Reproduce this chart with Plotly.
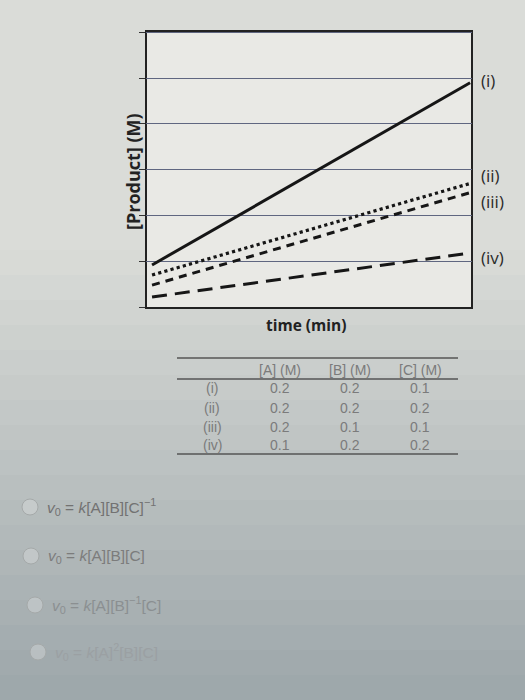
import plotly.graph_objects as go

W, H = 525, 700

# product vs time for each run (endpoints, grid units)
time_min = [0, 10]
product = {
    "(i)": [0.92, 4.9],
    "(ii)": [0.70, 2.70],
    "(iii)": [0.48, 2.50],
    "(iv)": [0.22, 1.18],
}
line_styles = {
    "(i)": dict(color="#161616", width=3, dash="solid"),
    "(ii)": dict(color="#161616", width=3.2, dash="dot"),
    "(iii)": dict(color="#161616", width=3, dash="8px,6px"),
    "(iv)": dict(color="#161616", width=3, dash="15px,8px"),
}
label_y_px = {"(i)": 81, "(ii)": 175, "(iii)": 201, "(iv)": 257}

# table of initial concentrations
runs = ["(i)", "(ii)", "(iii)", "(iv)"]
conc_A = ["0.2", "0.2", "0.2", "0.1"]
conc_B = ["0.2", "0.2", "0.1", "0.2"]
conc_C = ["0.1", "0.2", "0.1", "0.2"]
headers = ["[A] (M)", "[B] (M)", "[C] (M)"]

# answer choices
choices = [
    "<i>v</i><sub>0</sub> = <i>k</i>[A][B][C]<sup>−1</sup>",
    "<i>v</i><sub>0</sub> = <i>k</i>[A][B][C]",
    "<i>v</i><sub>0</sub> = <i>k</i>[A][B]<sup>−1</sup>[C]",
    "<i>v</i><sub>0</sub> = <i>k</i>[A]<sup>2</sup>[B][C]",
]


def px(x):
    return x / W


def py(y):
    return 1 - y / H


fig = go.Figure()

for name, ys in product.items():
    fig.add_trace(go.Scatter(x=time_min, y=ys, mode="lines", name=name,
                             line=line_styles[name], showlegend=False))

shapes = []
# photo-ish background: light top, darker bluish bottom
n = 28
top, bot = (218, 220, 216), (158, 168, 171)
for i in range(n):
    t = i / (n - 1)
    t2 = max(0.0, (t - 0.35) / 0.65)
    c = tuple(int(top[k] + (bot[k] - top[k]) * t2) for k in range(3))
    shapes.append(dict(type="rect", xref="paper", yref="paper", layer="below",
                       x0=0, x1=1, y0=1 - (i + 1) / n, y1=1 - i / n,
                       line=dict(width=0), fillcolor=f"rgb{c}"))
# plot frame background
shapes.append(dict(type="rect", xref="paper", yref="paper", layer="below",
                   x0=px(146), x1=px(472), y0=py(308), y1=py(31),
                   line=dict(color="#222", width=2), fillcolor="#e9e9e5"))

# table rules
for yy in [358, 379, 454]:
    shapes.append(dict(type="line", xref="paper", yref="paper",
                       x0=px(177), x1=px(458), y0=py(yy), y1=py(yy),
                       line=dict(color="#555", width=1.5)))

annotations = []
for name, yy in label_y_px.items():
    annotations.append(dict(x=px(479), y=py(yy), xref="paper", yref="paper",
                            text=name, showarrow=False, xanchor="left",
                            yanchor="middle",
                            font=dict(size=17, color="#2a2a2a", family="Open Sans")))

annotations.append(dict(x=px(306), y=py(325), xref="paper", yref="paper",
                        text="<b>time (min)</b>", showarrow=False,
                        xanchor="center", yanchor="middle",
                        font=dict(size=15.5, color="#222", family="Open Sans")))
annotations.append(dict(x=px(133), y=py(172), xref="paper", yref="paper",
                        text="<b>[Product] (M)</b>", showarrow=False, textangle=-90,
                        xanchor="center", yanchor="middle",
                        font=dict(size=18, color="#222", family="Open Sans")))

col_x = [280, 350, 420]
tfont = dict(size=14, color="#7b7b7b", family="Liberation Sans")
for cx, h in zip(col_x, headers):
    annotations.append(dict(x=px(cx), y=py(370), xref="paper", yref="paper",
                            text=h, showarrow=False, xanchor="center",
                            yanchor="middle", font=tfont))
row_y = [388, 408, 427, 445]
for ry, r, a, b, c in zip(row_y, runs, conc_A, conc_B, conc_C):
    for cx, v in zip([212] + col_x, [r, a, b, c]):
        annotations.append(dict(x=px(cx), y=py(ry), xref="paper", yref="paper",
                                text=v, showarrow=False, xanchor="center",
                                yanchor="middle", font=tfont))

choice_pos = [(30, 507), (31, 556), (35, 605), (38, 652)]
choice_col = ["#727272", "#7c7c7c", "#8b8f91", "#9ba0a3"]
for (cx, cy), txt, col in zip(choice_pos, choices, choice_col):
    shapes.append(dict(type="circle", xref="paper", yref="paper",
                       x0=px(cx - 8), x1=px(cx + 8), y0=py(cy + 8), y1=py(cy - 8),
                       line=dict(color="#a5a9a9", width=1),
                       fillcolor="rgba(230,232,231,0.35)"))
    annotations.append(dict(x=px(cx + 15), y=py(cy), xref="paper", yref="paper",
                            text=txt, showarrow=False, xanchor="left",
                            yanchor="middle",
                            font=dict(size=15.5, color=col, family="Liberation Sans")))

fig.update_layout(
    width=W, height=H,
    margin=dict(l=0, r=0, t=0, b=0),
    paper_bgcolor="#d8dad6",
    plot_bgcolor="rgba(0,0,0,0)",
    shapes=shapes,
    annotations=annotations,
    xaxis=dict(domain=[px(146), px(472)], range=[-0.19, 10.06], showgrid=False,
               showticklabels=False, zeroline=False, showline=False, fixedrange=True),
    yaxis=dict(domain=[py(308), py(31)], range=[-0.02, 6.03], tick0=0, dtick=1,
               showgrid=True, gridcolor="#5f6680", gridwidth=1.4,
               showticklabels=False, zeroline=False,
               ticks="outside", ticklen=6, tickcolor="#333",
               showline=False, fixedrange=True),
)

fig.write_html("out.html", config={"displayModeBar": False},
               post_script="document.body.style.margin='0';"
                           "document.body.style.overflow='hidden';")
